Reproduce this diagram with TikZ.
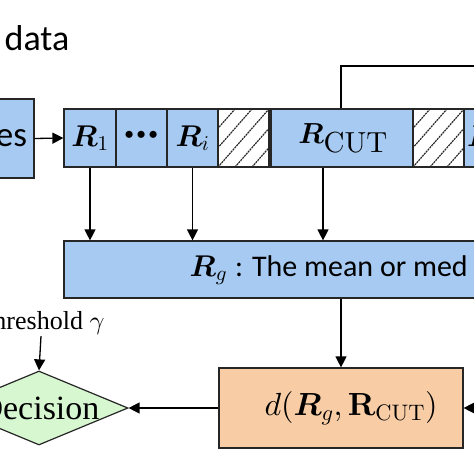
\documentclass[tikz,border=0pt]{standalone}
\usepackage[no-math]{fontspec}
\usepackage{bm}
\setmainfont{Carlito}
\newfontfamily\timesf{Liberation Serif}
\usetikzlibrary{shapes.geometric,arrows.meta}

% scalable math fonts
\DeclareFontShape{OML}{cmm}{m}{it}{<->cmmi10}{}
\DeclareFontShape{OML}{cmm}{b}{it}{<->cmmib10}{}
\DeclareFontShape{OMS}{cmsy}{m}{n}{<->cmsy10}{}
\DeclareFontShape{OMS}{cmsy}{b}{n}{<->cmbsy10}{}
\DeclareFontShape{OT1}{cmr}{m}{n}{<->cmr10}{}
\DeclareFontShape{OT1}{cmr}{bx}{n}{<->cmbx10}{}
\DeclareFontShape{OMX}{cmex}{m}{n}{<->cmex10}{}

\definecolor{cellblue}{RGB}{167,202,242}
\definecolor{distorange}{RGB}{248,205,166}
\definecolor{decgreen}{RGB}{215,247,209}

\tikzset{every picture/.style={line width=1.2pt}}
\tikzset{
  cell/.style={draw=black!85, fill=cellblue, minimum height=58pt, inner sep=0pt},
  hatchcell/.style={draw=black!85, fill=white, minimum height=58pt, minimum width=51pt,
    path picture={\foreach \k in {-68,-51,...,68}
      \draw[line width=1.2pt, dash pattern=on 2pt off 0.8pt]
        ([xshift=\k pt]path picture bounding box.south west) -- ([xshift=\k pt]path picture bounding box.north east);}},
  arr/.style={-{Triangle[length=11pt,width=11pt]}, line width=1.3pt},
  big/.style={font=\fontsize{30}{34}\selectfont}
}

\begin{document}
\begin{tikzpicture}[x=1pt,y=1pt,yscale=-1,xscale=1]
\useasboundingbox (0,0) rectangle (474,474);
\clip (0,0) rectangle (474,474);

% Text Node
\node[anchor=base west, inner sep=0pt, font=\fontsize{36}{40}\selectfont] (title) at (4,50) {data};

%Shape: input box
\node[cell, minimum height=79pt, text width=80pt, align=right, inner xsep=7pt, font=\fontsize{35}{40}\selectfont] (inbox) at (-13,138.5) {es};

%Shape: strip of cells
\node[cell, minimum width=52pt, big] (r1) at (90,138) {$\bm{R}_1$};
\node[cell, minimum width=51pt, font=\bfseries\fontsize{38}{40}\selectfont] (dots) at (141.5,138) {·\kern1.5pt·\kern1.5pt·};
\node[cell, minimum width=51pt, big] (ri) at (192.5,138) {$\bm{R}_i$};
\node[hatchcell] (h1) at (243.5,138) {};
\node[cell, minimum width=144pt, font=\fontsize{29}{34}\selectfont] (rcut) at (343,138) {$\bm{R}_{\textstyle\mathrm{CUT}}$};
\node[hatchcell] (h2) at (438.5,138) {};
\node[cell, minimum width=51pt, text width=45pt, align=left, inner xsep=3pt, big] (rn) at (489.5,138) {$\bm{R}_N$};

%Shape: mean or median box
\node[cell, minimum width=556pt, minimum height=57pt] (rg) at (342,269.5) {};
% Text Node
\node[anchor=west, inner sep=0pt, font=\fontsize{30}{35}\selectfont] (rglabel) at (189,270) {$\bm{R}_g$\hspace{8pt}: The mean or med};

%Shape: distance box
\node[draw=black!85, fill=distorange, minimum width=244pt, minimum height=80pt, font=\fontsize{32}{38}\selectfont] (dist) at (341,408) {\hspace{20pt}$d\big(\bm{R}_g,\mathbf{R}_{\mathrm{CUT}}\big)$};

%Shape: decision diamond
\node[diamond, draw=black!85, fill=decgreen, minimum width=178pt, minimum height=74pt, inner sep=0pt, font=\timesf\fontsize{34}{38}\selectfont] (dec) at (39,408) {\makebox[0pt]{Decision}};

% Text Node
\node[inner sep=1pt, font=\timesf\fontsize{26}{30}\selectfont] (thr) at (41,323) {Threshold $\gamma$};

\coordinate (fb) at (500,66);
\coordinate (din) at (500,408);

%Straight Lines
\draw[arr] (inbox.east) -- (r1.west);
\draw[line width=1.3pt] (rcut.north -| 341,0) |- (fb);
\draw[arr] (r1.south) -- (r1.south |- rg.north);
\draw[arr] (ri.south) -- (ri.south |- rg.north);
\draw[arr] ([xshift=-20pt]rcut.south) -- ([xshift=-20pt]rcut.south |- rg.north);
\draw[arr] (rg.south -| dist.north) -- (dist.north);
\draw[arr] (din) -- (dist.east);
\draw[arr] (dist.west) -- (dec.east);
\draw[arr] (thr.south) -- (dec.north);

\end{tikzpicture}
\end{document}
